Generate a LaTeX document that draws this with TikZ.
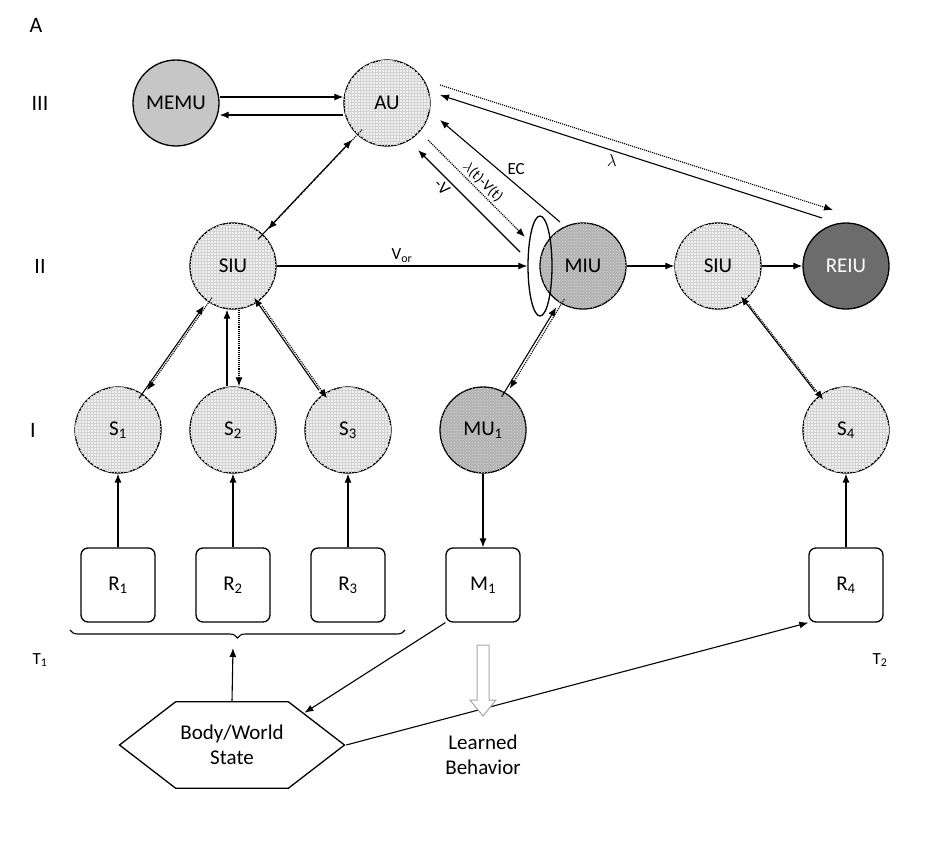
\documentclass[tikz,border=0pt]{standalone}
\usepackage{fontspec}
\setmainfont{Carlito}
\usetikzlibrary{shapes.geometric,patterns,decorations.pathreplacing,arrows.meta,calc}
\begin{document}
\begin{tikzpicture}[x=1pt,y=-1pt,line width=1.1pt,
  unit/.style={circle,draw,line width=1.3pt,minimum size=86pt,inner sep=0pt,font=\fontsize{21}{21}\selectfont},
  light/.style={unit,fill=gray!12,postaction={pattern=grid,pattern color=gray!35}},
  wavy/.style={unit,fill=gray!60,postaction={pattern=crosshatch dots,pattern color=gray!30}},
  box/.style={draw,line width=1.3pt,rounded corners=7pt,minimum size=74pt,font=\fontsize{21}{21}\selectfont},
  lvl/.style={font=\fontsize{22}{22}\selectfont\rmfamily},
  ar/.style={-{Latex[length=9pt,width=7pt]}},
  dar/.style={-{Latex[length=9pt,width=7pt]},densely dotted},
  lab/.style={font=\fontsize{17}{17}\selectfont}]
\useasboundingbox (0,0) rectangle (936,840);
% units
\node[unit,fill=gray!45] (memu) at (176,103) {MEMU};
\node[light] (au) at (387,103) {AU};
\node[light] (siu1) at (233,266) {SIU};
\node[wavy] (miu) at (583,266) {MIU};
\node[light] (siu2) at (718,266) {SIU};
\node[unit,fill=gray!85!black,text=white] (reiu) at (846,266) {REIU};
\node[light] (s1) at (118,430) {S\textsubscript{1}};
\node[light] (s2) at (233,430) {S\textsubscript{2}};
\node[light] (s3) at (348,430) {S\textsubscript{3}};
\node[wavy] (mu1) at (483,430) {MU\textsubscript{1}};
\node[light] (s4) at (846,430) {S\textsubscript{4}};
\node[draw,line width=1.3pt,ellipse,minimum width=24pt,minimum height=100pt] (gate) at (540,266) {};
% sensors / motor
\node[box] (r1) at (118,585) {R\textsubscript{1}};
\node[box] (r2) at (233,585) {R\textsubscript{2}};
\node[box] (r3) at (348,585) {R\textsubscript{3}};
\node[box] (m1) at (483,585) {M\textsubscript{1}};
\node[box] (r4) at (846,585) {R\textsubscript{4}};
\node[draw,line width=1.3pt,regular polygon,regular polygon sides=6,minimum size=100pt,xscale=2.25,inner sep=0pt] (body) at (232,745) {};
\node[align=center,font=\fontsize{21}{25}\selectfont] at (232,745) {Body/World\\State};
\node[align=center,font=\fontsize{21}{25}\selectfont] (lb) at (483,755) {Learned\\Behavior};
% level labels
\node[lvl] (la) at (36,25) {A};
\node[lvl] (l3) at (40,103) {III};
\node[lvl] (l2) at (40,266) {II};
\node[lvl] (l1) at (33,430) {I};
\node[lab] (t1) at (40,660) {T\textsubscript{1}};
\node[lab] (t2) at (880,660) {T\textsubscript{2}};
% brace
\coordinate (bl) at (70,630);
\coordinate (br) at (405,630);
\coordinate (bm) at (233,648);
\draw[decorate,decoration={brace,mirror,amplitude=8pt}] (bl) -- (br);
\draw[ar] (body.north) -- (bm);
% level III
\draw[ar] ([yshift=6]memu.east) -- ([yshift=6]au.west);
\draw[ar] ([yshift=-12]au.west) -- ([yshift=-12]memu.east);
\draw[ar,transform canvas={xshift=-5,yshift=-5}] (siu1) -- (au);
\draw[dar,transform canvas={xshift=5,yshift=5}] (au) -- (siu1);
% AU <-> REIU
\coordinate (ar1) at (440,95);
\coordinate (ar2) at (822,218);
\coordinate (ad1) at (440,85);
\coordinate (ad2) at (833,210);
\draw[ar] (ar2) -- node[lab,below,pos=0.55] {$\lambda$} (ar1);
\draw[dar] (ad1) -- (ad2);
% AU <-> MIU
\coordinate (ec1) at (560,222);
\coordinate (ec2) at (440,120);
\coordinate (lv1) at (428,140);
\coordinate (lv2) at (525,237);
\coordinate (v1) at (520,252);
\coordinate (v2) at (418,150);
\draw[ar] (ec1) -- node[lab,above right,pos=0.45,inner sep=1pt] {EC} (ec2);
\draw[dar] (lv1) -- node[sloped,above,inner sep=2pt,font=\fontsize{15}{15}\selectfont] {$\lambda$(t)-V(t)} (lv2);
\draw[ar] (v1) -- node[lab,sloped,below,pos=0.7] {-V} (v2);
% level II
\draw[ar] (siu1) -- node[lab,above] {V\textsubscript{or}} (gate.west);
\draw[ar] (miu) -- (siu2);
\draw[ar] (siu2) -- (reiu);
% level I
\draw[ar,transform canvas={xshift=-4,yshift=-4}] (s1) -- (siu1);
\draw[dar,transform canvas={xshift=4,yshift=4}] (siu1) -- (s1);
\draw[ar] ([xshift=-6]s2.north) -- ([xshift=-6]siu1.south);
\draw[dar] ([xshift=6]siu1.south) -- ([xshift=6]s2.north);
\draw[ar,transform canvas={xshift=-4,yshift=4}] (s3) -- (siu1);
\draw[dar,transform canvas={xshift=4,yshift=-4}] (siu1) -- (s3);
\draw[ar,transform canvas={xshift=-4,yshift=-4}] (mu1) -- (miu);
\draw[dar,transform canvas={xshift=4,yshift=4}] (miu) -- (mu1);
\draw[ar,transform canvas={xshift=-4,yshift=4}] (s4) -- (siu2);
\draw[dar,transform canvas={xshift=4,yshift=-4}] (siu2) -- (s4);
% receptors and motor
\draw[ar] (r1) -- (s1);
\draw[ar] (r2) -- (s2);
\draw[ar] (r3) -- (s3);
\draw[ar] (r4) -- (s4);
\draw[ar] (mu1) -- (m1);
\draw[ar] (m1.south west) -- (body.north east);
\draw[ar] (body.east) -- (r4.south west);
% learned behavior hollow arrow
\draw[gray!70,line width=1pt,fill=white] (477,645) -- (489,645) -- (489,700) -- (496,700) -- (483,716) -- (470,700) -- (477,700) -- cycle;
\end{tikzpicture}
\end{document}
